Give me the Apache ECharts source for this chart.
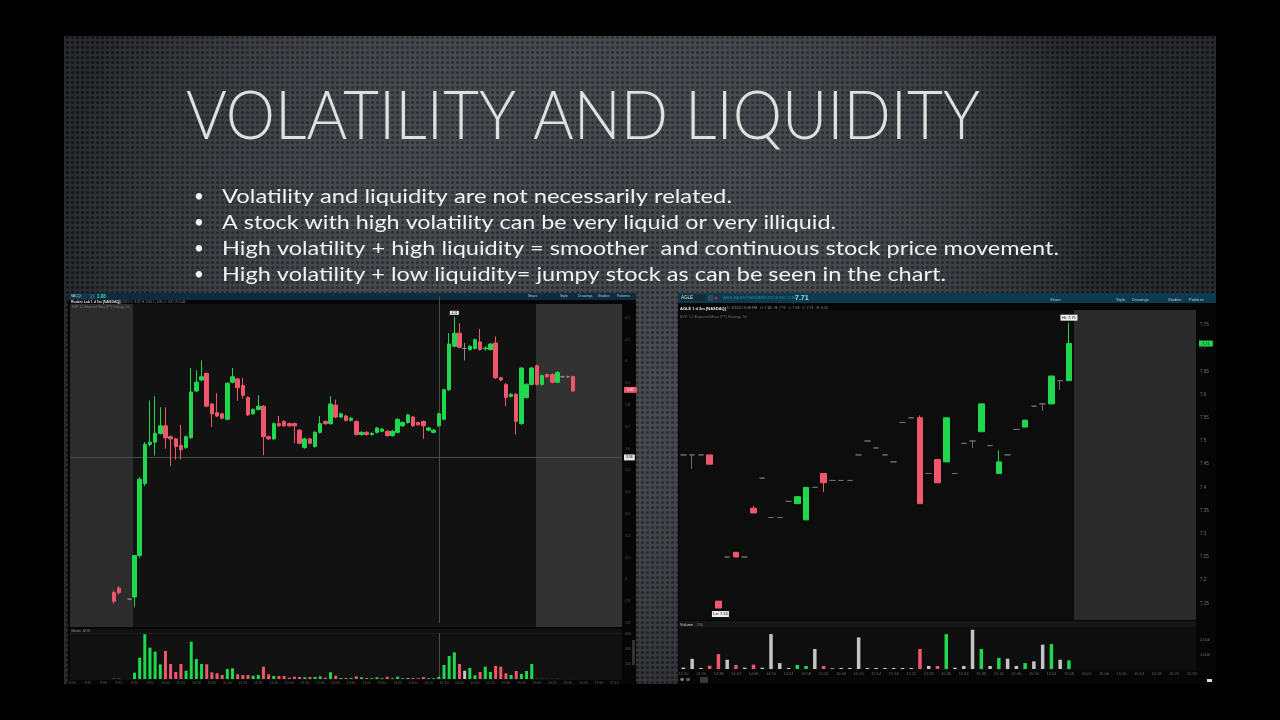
<!DOCTYPE html>
<html><head><meta charset="utf-8">
<script src="https://cdn.jsdelivr.net/npm/echarts@6/dist/echarts.min.js"></script>
<style>html,body{margin:0;padding:0;background:#000}#c{width:1280px;height:720px}</style>
</head><body><div id="c"></div><script>
// ---------------- DATA ----------------
const titleText = 'VOLATILITY AND LIQUIDITY';
const bulletLines = [
  'Volatility and liquidity are not necessarily related.',
  'A stock with high volatility can be very liquid or very illiquid.',
  'High volatility + high liquidity = smoother  and continuous stock price movement.',
  'High volatility + low liquidity= jumpy stock as can be seen in the chart.'
];

// Left chart: 5-minute bars (pre-market, regular session, after-hours)
const leftTimes = ['8:30','8:35','8:40','8:45','8:50','8:55','9:00','9:05','9:10','9:15','9:20','9:25',
 '9:30','9:35','9:40','9:45','9:50','9:55',
 '10:00','10:05','10:10','10:15','10:20','10:25','10:30','10:35','10:40','10:45','10:50','10:55',
 '11:00','11:05','11:10','11:15','11:20','11:25','11:30','11:35','11:40','11:45','11:50','11:55',
 '12:00','12:05','12:10','12:15','12:20','12:25','12:30','12:35','12:40','12:45','12:50','12:55',
 '13:00','13:05','13:10','13:15','13:20','13:25','13:30','13:35','13:40','13:45','13:50','13:55',
 '14:00','14:05','14:10','14:15','14:20','14:25','14:30','14:35','14:40','14:45','14:50','14:55',
 '15:00','15:05','15:10','15:15','15:20','15:25','15:30','15:35','15:40','15:45','15:50','15:55',
 '16:00','16:05','16:10','16:15','16:20','16:25','16:30','16:35','16:40','16:45','16:50','16:55',
 '17:00','17:05','17:10','17:15','17:20'];
// [open, close, low, high]
const leftCandles = [null,null,null,null,null,null,null,null,
 [2.94,2.90,2.89,2.95],[2.96,2.94,2.93,2.97],null,[2.91,2.91,2.91,2.91],
 [2.92,3.11,2.875,3.11],[3.11,3.46,3.10,3.47],[3.44,3.62,3.43,3.63],[3.62,3.63,3.61,3.82],
 [3.63,3.67,3.57,3.84],[3.67,3.705,3.665,3.79],[3.705,3.65,3.60,3.79],[3.655,3.645,3.52,3.66],
 [3.645,3.61,3.55,3.65],[3.615,3.595,3.55,3.71],[3.605,3.655,3.60,3.66],[3.65,3.86,3.645,3.97],
 [3.865,3.905,3.86,3.96],[3.915,3.93,3.91,4.005],[3.945,3.795,3.79,3.95],[3.805,3.76,3.70,3.81],
 [3.765,3.75,3.745,3.855],[3.76,3.74,3.735,3.765],[3.735,3.90,3.73,3.905],[3.905,3.93,3.90,3.97],
 [3.92,3.88,3.82,3.925],[3.89,3.845,3.83,3.925],[3.835,3.755,3.75,3.84],[3.76,3.78,3.755,3.785],
 [3.78,3.795,3.775,3.845],[3.795,3.655,3.57,3.80],[3.655,3.645,3.64,3.66],[3.645,3.715,3.64,3.72],
 [3.715,3.705,3.70,3.75],[3.725,3.705,3.70,3.73],[3.715,3.705,3.70,3.72],[3.715,3.705,3.625,3.72],
 [3.685,3.625,3.62,3.69],[3.605,3.645,3.60,3.65],[3.645,3.625,3.62,3.65],[3.61,3.675,3.605,3.68],
 [3.675,3.715,3.67,3.75],[3.725,3.715,3.71,3.73],[3.715,3.805,3.71,3.84],[3.80,3.745,3.74,3.825],
 [3.745,3.76,3.74,3.765],[3.75,3.73,3.725,3.755],[3.73,3.74,3.725,3.745],[3.725,3.665,3.66,3.73],
 [3.665,3.675,3.66,3.68],[3.675,3.665,3.66,3.68],[3.665,3.67,3.66,3.675],[3.675,3.695,3.67,3.70],
 [3.68,3.69,3.675,3.695],[3.68,3.66,3.655,3.685],[3.66,3.68,3.655,3.685],[3.675,3.735,3.67,3.74],
 [3.705,3.72,3.70,3.725],[3.72,3.755,3.715,3.76],[3.745,3.705,3.70,3.75],[3.72,3.71,3.705,3.725],
 [3.725,3.705,3.645,3.73],[3.685,3.695,3.68,3.70],[3.675,3.685,3.67,3.69],[3.705,3.76,3.70,3.765],
 [3.735,3.87,3.73,3.875],[3.87,4.08,3.865,4.13],[4.07,4.13,4.065,4.205],[4.13,4.065,4.06,4.175],
 [4.06,4.06,4.005,4.085],[4.055,4.07,4.05,4.075],[4.06,4.10,4.055,4.105],[4.09,4.055,4.05,4.15],
 [4.058,4.062,4.05,4.07],[4.055,4.08,4.05,4.085],[4.085,3.925,3.92,4.115],[3.925,3.915,3.91,3.93],
 [3.895,3.835,3.795,3.90],[3.84,3.85,3.835,3.855],[3.85,3.725,3.665,3.855],[3.715,3.97,3.71,3.975],
 [3.835,3.895,3.83,3.90],[3.895,3.97,3.89,3.975],[3.98,3.895,3.89,3.985],[3.895,3.935,3.89,3.94],
 [3.94,3.93,3.925,3.945],[3.94,3.905,3.90,3.945],[3.905,3.95,3.90,3.955],[3.93,3.93,3.925,3.935],
 [3.93,3.93,3.925,3.935],[3.93,3.865,3.86,3.935]];
// volume, thousands of shares
const leftVolume = [0,0,0,0,0,0,0,0,4,4,0,1,
 63,213,447,313,273,147,280,150,70,150,83,373,200,150,147,67,57,40,100,107,47,40,40,33,40,123,47,30,
 30,30,13,23,20,17,20,20,27,13,67,33,10,10,10,27,17,10,8,17,8,23,8,23,8,10,10,8,20,8,8,23,
 140,230,267,150,83,110,37,70,123,70,130,123,57,40,80,50,80,150,2,2,1,1,2,0,0,1];
const leftCrossTime = '14:25';
const leftCrossPrice = 3.562;

// Right chart: AGLE 2-minute bars
const rightTimes = ['14:30','14:32','14:34','14:36','14:38','14:40','14:42','14:44','14:46','14:48',
 '14:50','14:52','14:54','14:56','14:58','15:00','15:02','15:04','15:06','15:08','15:10','15:12',
 '15:14','15:16','15:18','15:20','15:22','15:24','15:26','15:28','15:30','15:32','15:34','15:36',
 '15:38','15:40','15:42','15:44','15:46','15:48','15:50','15:52','15:54','15:56','15:58',
 '16:00','16:02','16:04','16:06','16:08','16:10','16:12','16:14','16:16','16:18','16:20','16:22','16:24','16:26'];
const rightCandles = [
 [7.47,7.47,7.47,7.47],[7.47,7.47,7.44,7.47],[7.47,7.47,7.47,7.47],[7.47,7.45,7.45,7.47],
 [7.155,7.14,7.14,7.155],[7.25,7.25,7.25,7.25],[7.26,7.25,7.25,7.26],[7.25,7.25,7.25,7.25],
 [7.355,7.345,7.345,7.36],[7.42,7.42,7.42,7.42],[7.335,7.335,7.335,7.335],[7.335,7.335,7.335,7.335],
 [7.37,7.37,7.37,7.37],[7.365,7.38,7.365,7.38],[7.33,7.40,7.33,7.40],[7.40,7.40,7.40,7.40],
 [7.43,7.41,7.39,7.43],[7.415,7.415,7.415,7.415],[7.415,7.415,7.415,7.415],[7.415,7.415,7.415,7.415],
 [7.47,7.47,7.47,7.47],[7.50,7.50,7.50,7.50],[7.485,7.485,7.485,7.485],[7.47,7.47,7.47,7.47],
 [7.455,7.455,7.455,7.455],[7.54,7.54,7.54,7.54],[7.55,7.55,7.55,7.55],[7.55,7.365,7.365,7.555],
 [7.43,7.43,7.43,7.43],[7.46,7.41,7.41,7.46],[7.455,7.55,7.455,7.55],[7.43,7.43,7.43,7.43],
 [7.495,7.495,7.495,7.495],[7.50,7.50,7.485,7.50],[7.52,7.58,7.52,7.58],[7.49,7.49,7.49,7.49],
 [7.43,7.455,7.43,7.48],[7.47,7.47,7.47,7.47],[7.525,7.525,7.525,7.525],[7.53,7.545,7.53,7.545],
 [7.575,7.575,7.575,7.575],[7.58,7.58,7.565,7.58],[7.58,7.64,7.58,7.64],[7.63,7.63,7.61,7.63],
 [7.63,7.71,7.63,7.755]];
const rightVolume = [100,700,70,230,1030,640,280,90,300,90,2410,410,70,280,210,1380,210,50,70,70,
 2180,70,70,70,70,70,70,1380,210,210,2410,90,210,2710,1380,210,760,710,210,410,530,1680,1720,640,600];
const rightHiLabel = 'Hi: 7.75';
const rightLoLabel = 'Lo: 7.14';

// ---------------- STYLE / BUILD ----------------
const GREEN = '#1fd84e', RED = '#f0566c', GRAY = '#c4c4c4';
function dirColor(c){ if(!c) return GRAY; return c[1]>c[0]?GREEN:(c[1]<c[0]?RED:GRAY); }
const leftData = leftCandles.map(c => c ? c : ['-','-','-','-']);
const leftVolData = leftVolume.map((v,i) => ({value:v, itemStyle:{color:dirColor(leftCandles[i])}}));
const rightVolData = rightVolume.map((v,i) => ({value:v, itemStyle:{color:dirColor(rightCandles[i])}}));

// texture pattern for the slide background
const pc = document.createElement('canvas'); pc.width = 5; pc.height = 5;
const pg = pc.getContext('2d');
pg.fillStyle = '#393c42'; pg.fillRect(0,0,5,5);
pg.fillStyle = '#1b1d21'; pg.beginPath(); pg.arc(2.5,2.5,1.55,0,Math.PI*2); pg.fill();

const mctx = document.createElement('canvas').getContext('2d');
function fitScale(text, font, target){ mctx.font = font; return target / mctx.measureText(text).width; }

function txt(x,y,text,size,color,opts){
  opts = opts || {};
  const font = (opts.weight||'normal') + ' ' + size + 'px ' + (opts.family||'"Liberation Sans", Arial, sans-serif');
  return {type:'text', x:x, y:y, z: opts.z==null?50:opts.z, scaleX: opts.scaleX||1, silent:true,
    style:{text:text, font:font, fill:color, textAlign:opts.align||'left', align:opts.align||'left',
      textVerticalAlign:'middle', verticalAlign:'middle'}};
}
function rect(x,y,w,h,fill,z){ return {type:'rect', z:z==null?0:z, silent:true, shape:{x:x,y:y,width:w,height:h}, style:{fill:fill}}; }

const titleFont = '300 67px Lato';
const bulletFont = '400 19px Lato';
const bulletTargets = [510, 614, 837, 724];
const bulletY = [197, 223, 249, 275];

const graphics = [];
// slide
graphics.push(rect(64,36,1152,648,{image:pc, repeat:'repeat'},0));
graphics.push({type:'rect', z:1, silent:true, shape:{x:64,y:36,width:1152,height:648},
  style:{fill:new echarts.graphic.RadialGradient(0.45,0.3,0.8,[{offset:0,color:'rgba(255,255,255,0.04)'},{offset:1,color:'rgba(0,0,0,0.3)'}])}});
// title
graphics.push({type:'text', x:186, y:117, z:60, silent:true, scaleX: fitScale(titleText, titleFont, 794),
  style:{text:titleText, font:titleFont, textVerticalAlign:'middle', verticalAlign:'middle', fill:'#e0e0e0',
    shadowColor:'rgba(0,0,0,0.6)', shadowBlur:3, shadowOffsetY:1}});
bulletLines.forEach((b,i) => {
  graphics.push(txt(194, bulletY[i], '•', 17, '#f2f2f2', {family:'Lato', z:60}));
  graphics.push({type:'text', x:222, y:bulletY[i], z:60, silent:true, scaleX: fitScale(b, bulletFont, bulletTargets[i]),
    style:{text:b, font:bulletFont, fill:'#f2f2f2', textVerticalAlign:'middle', verticalAlign:'middle'}});
});

// ---- left panel chrome ----
graphics.push(rect(68,293,568,391,'#060606',2));
graphics.push(rect(68,293,568,7,'#0b2d3e',3));
graphics.push(rect(70,294,18,5,'#16384a',4));
graphics.push(txt(71,296.5,'VACQ',3.5,'#cfd8dc'));
graphics.push(rect(89,294,6,5,'#26475a',4));
graphics.push(txt(97,296.5,'3.88',4.5,'#3fd1c3',{weight:'bold'}));
['Share','Style','Drawings','Studies','Patterns'].forEach((s,i)=>{ graphics.push(txt([528,560,578,598,617][i],296.5,s,3.5,'#b7c9d3')); });
graphics.push(txt(71,302,'Rocket Lab 1 d 5m [NASDAQ]',3.5,'#e0e0e0',{weight:'bold'}));
graphics.push(txt(115,302,'D: 3/12/21  O: 3.93  H: 3.94  L: 3.86  C: 3.87  R: 0.08',3,'#8a8a8a'));
graphics.push(rect(70,304,552,323,'#121212',3));
graphics.push(rect(70,304,63,323,'#2c2c2c',4));
graphics.push(rect(536,304,86,323,'#323232',4));
graphics.push(txt(72,307,'EXP: 1.2 Expected Move (PT) Strategy, 5m',3,'#7a7a7a'));
graphics.push(rect(70,629,552,51,'#111111',3));
graphics.push(rect(70,633,552,0.6,'#2a2a2a',4));
graphics.push(txt(71,631,'Volume  44.7K',3,'#9a9a9a'));
graphics.push(rect(632,640,3,25,'#333',4));

// ---- right panel chrome ----
graphics.push(rect(678,293,538,391,'#060606',2));
graphics.push(rect(678,293,538,10,'#0d3a4f',3));
graphics.push(rect(680,295,25,6,'#142b38',4));
graphics.push(txt(681,298,'AGLE',4.5,'#d8e2e6'));
graphics.push(rect(708,295,5,6,'#2b4a5b',4));
graphics.push({type:'circle', z:5, silent:true, shape:{cx:716,cy:298,r:1.6}, style:{fill:'#d02040'}});
graphics.push(txt(723,298,'AEGLEA BIOTHERAPEUTICS INC COM',4,'#2f8aa6'));
graphics.push(txt(795,298,'7.71',7,'#7fe3e0',{weight:'bold'}));
[['Share',1050],['Style',1116],['Drawings',1132],['Studies',1168],['Patterns',1189]].forEach(s=>graphics.push(txt(s[1],300,s[0],4,'#b7c9d3')));
graphics.push(txt(680,308.5,'AGLE 1 d 2m [NASDAQ]',4,'#f0f0f0',{weight:'bold'}));
graphics.push(txt(727,308.5,'D: 3/12/21 3:58 PM   O: 7.63   H: 7.75   L: 7.63   C: 7.71   R: 0.12',3.5,'#9a9a9a'));
graphics.push(rect(679,310,517,310,'#0d0d0d',3));
graphics.push(rect(1074,310,122,310,'#2a2a2a',4));
graphics.push(txt(680,317.5,'EXP: 1.2 Expected Move (PT) Strategy, 2m',3.5,'#6e6e6e'));
graphics.push(rect(679,621,517,6,'#161616',3));
graphics.push(txt(680,625,'Volume',4,'#cfcfcf'));
graphics.push(txt(697,625,'550',3.5,'#8a8a8a'));
graphics.push(rect(679,627,517,43,'#0e0e0e',3));
graphics.push(txt(680,680,'⊕',5,'#cfcfcf'));
graphics.push(txt(686,680,'⊝',5,'#cfcfcf'));
graphics.push(rect(700,677,8,6,'#3a3a3a',4));
graphics.push(rect(1207,679,5,3,'#dddddd',4));

const chart = echarts.init(document.getElementById('c'), null, {renderer:'canvas'});
const hidden = {show:false};
const NOLINE = 'rgba(0,0,0,0)';
chart.setOption({
  backgroundColor:'#000',
  animation:false,
  graphic:{elements:graphics},
  grid:[
    {left:70, right:658, top:296.1, bottom:96.9},
    {left:70, right:658, top:633, bottom:41},
    {left:679, right:84, top:301.8, bottom:93.4},
    {left:679, right:84, top:627, bottom:51}
  ],
  xAxis:[
    {gridIndex:0, z:20, type:'category', data:leftTimes, boundaryGap:true, axisLine:hidden, axisTick:hidden, axisLabel:hidden, splitLine:hidden},
    {gridIndex:1, z:20, type:'category', data:leftTimes, boundaryGap:true, axisLine:hidden, axisTick:hidden, splitLine:hidden,
      axisLabel:{interval:2, fontSize:3.5, color:'#5f5f5f', margin:2}},
    {gridIndex:2, z:20, type:'category', data:rightTimes, boundaryGap:true, axisLine:hidden, axisTick:hidden, axisLabel:hidden, splitLine:hidden},
    {gridIndex:3, z:20, type:'category', data:rightTimes, boundaryGap:true, axisLine:hidden, axisTick:hidden, splitLine:hidden,
      axisLabel:{interval:1, fontSize:4, color:'#656565', margin:3}}
  ],
  yAxis:[
    {gridIndex:0, z:20, type:'value', position:'right', min:2.8, max:4.3, interval:0.1, splitLine:hidden, axisLine:hidden, axisTick:hidden,
      axisLabel:{fontSize:3.5, color:'#5e5e5e', margin:3, showMaxLabel:false}},
    {gridIndex:1, z:20, type:'value', position:'right', min:0, max:460, interval:150, splitLine:hidden, axisLine:hidden, axisTick:hidden,
      axisLabel:{fontSize:3.5, color:'#5e5e5e', margin:3, showMinLabel:false, showMaxLabel:false}},
    {gridIndex:2, z:20, type:'value', position:'right', min:7.1, max:7.8, interval:0.05, splitLine:hidden, axisLine:hidden, axisTick:hidden,
      axisLabel:{fontSize:4.5, color:'#747474', margin:4, showMinLabel:false, showMaxLabel:false}},
    {gridIndex:3, z:20, type:'value', position:'right', min:0, max:2900, interval:1000, splitLine:hidden, axisLine:hidden, axisTick:hidden,
      axisLabel:{fontSize:4, color:'#747474', margin:4, showMinLabel:false, showMaxLabel:false,
        formatter:v=>v.toLocaleString('en-US')}}
  ],
  series:[
    {type:'candlestick', xAxisIndex:0, yAxisIndex:0, data:leftData, barWidth:4, z:5,
      itemStyle:{color:GREEN, color0:RED, borderColor:GREEN, borderColor0:RED, borderColorDoji:'#8a8a8a', borderWidth:1},
      markLine:{silent:true, symbol:['none','none'], animation:false,
        data:[
          {xAxis:leftCrossTime, lineStyle:{color:'#4a4a4a', width:1, type:'solid'}, label:{show:false}},
          {yAxis:leftCrossPrice, lineStyle:{color:'#4a4a4a', width:1, type:'solid'},
            label:{show:true, position:'end', formatter:'3.56', fontSize:3.5, color:'#000', backgroundColor:'#e6e6e6', padding:[1,2], distance:2}},
          {yAxis:leftCandles[97][1], lineStyle:{color:NOLINE, width:1},
            label:{show:true, position:'end', formatter:'3.87', fontSize:3.5, color:'#fff', backgroundColor:RED, padding:[1,3], distance:2}}
        ]},
      markPoint:{silent:true, animation:false, data:[
        {coord:[leftTimes[74], leftCandles[74][3]], symbol:'rect', symbolSize:[9,4], symbolOffset:[0,-4],
          itemStyle:{color:'#e8e8e8'}, label:{show:true, formatter:'4.21', fontSize:3, color:'#000'}}
      ]}
    },
    {type:'bar', xAxisIndex:1, yAxisIndex:1, data:leftVolData, barWidth:3, z:5,
      markLine:{silent:true, symbol:['none','none'], animation:false,
        data:[{xAxis:leftCrossTime, lineStyle:{color:'#4a4a4a', width:1, type:'solid'}, label:{show:false}}]}},
    {type:'candlestick', xAxisIndex:2, yAxisIndex:2, data:rightCandles, barWidth:6, z:5,
      itemStyle:{color:GREEN, color0:RED, borderColor:GREEN, borderColor0:RED, borderColorDoji:'#6e6e6e', borderWidth:1},
      markLine:{silent:true, symbol:['none','none'], animation:false,
        data:[{yAxis:rightCandles[44][1], lineStyle:{color:NOLINE, width:1},
          label:{show:true, position:'end', formatter:'7.71', fontSize:4, color:'#000', backgroundColor:GREEN, padding:[1,3], distance:3}}]},
      markPoint:{silent:true, animation:false, data:[
        {coord:[rightTimes[44], rightCandles[44][3]], symbol:'rect', symbolSize:[17,6], symbolOffset:[0,-5],
          itemStyle:{color:'#eeeeee'}, label:{show:true, formatter:rightHiLabel, fontSize:4, color:'#000'}},
        {coord:[rightTimes[4], rightCandles[4][2]], symbol:'rect', symbolSize:[17,6], symbolOffset:[2,6],
          itemStyle:{color:'#eeeeee'}, label:{show:true, formatter:rightLoLabel, fontSize:4, color:'#000'}}
      ]}
    },
    {type:'bar', xAxisIndex:3, yAxisIndex:3, data:rightVolData, barWidth:3.5, z:5}
  ]
});
</script></body></html>
